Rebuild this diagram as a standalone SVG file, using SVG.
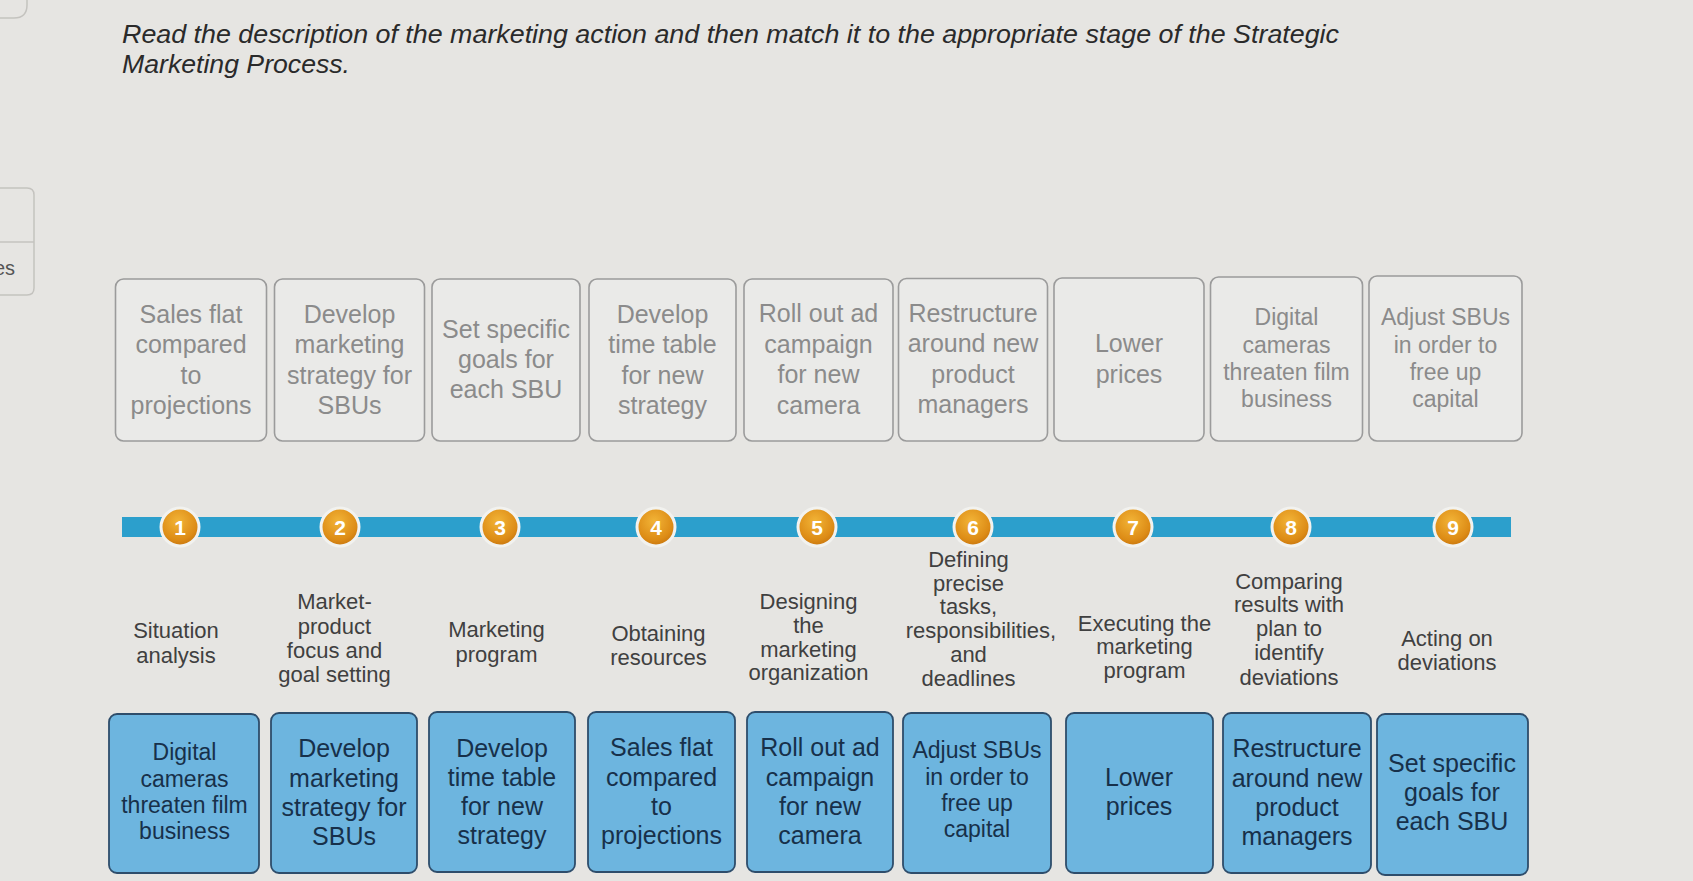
<svg xmlns="http://www.w3.org/2000/svg" width="1693" height="881" viewBox="0 0 1693 881">
<defs>
<radialGradient id="org" cx="0.45" cy="0.35" r="0.7">
<stop offset="0" stop-color="#f2b437"/>
<stop offset="0.7" stop-color="#dd8c16"/>
<stop offset="1" stop-color="#c2700c"/>
</radialGradient>
<style>
.bg{fill:#e6e5e2}
.title{font-family:"Liberation Sans",Arial,sans-serif;font-style:italic;font-size:26px;fill:#2a2a2a}
.tbox{fill:#eaeae8;stroke:#9b9b9b;stroke-width:1.6}
.ttxt{font-family:"Liberation Sans",Arial,sans-serif;font-size:25px;fill:#8b8b8b;text-anchor:middle}
.ttxs{font-family:"Liberation Sans",Arial,sans-serif;font-size:23px;fill:#8b8b8b;text-anchor:middle}
.bar{fill:#2c9fcc}
.dot{fill:url(#org);stroke:#f2f2ef;stroke-width:3}
.num{font-family:"Liberation Sans",Arial,sans-serif;font-size:21px;font-weight:bold;fill:#fff;text-anchor:middle}
.stg{font-family:"Liberation Sans",Arial,sans-serif;font-size:22px;fill:#404040;text-anchor:middle}
.bbox{fill:#6db5df;stroke:#2e4d6b;stroke-width:1.8}
.btxt{font-family:"Liberation Sans",Arial,sans-serif;font-size:25px;fill:#17304a;text-anchor:middle}
.btxs{font-family:"Liberation Sans",Arial,sans-serif;font-size:23px;fill:#17304a;text-anchor:middle}
.side{fill:none;stroke:#c4c3bf;stroke-width:1.5}
.sidet{font-family:"Liberation Sans",Arial,sans-serif;font-size:20px;fill:#555}
</style>
</defs>
<rect class="bg" x="0" y="0" width="1693" height="881"/>

<g id="side-panel">
<path class="side" d="M0 188 H27 Q34 188 34 195 V288 Q34 295 27 295 H0"/>
<line class="side" x1="0" y1="242" x2="34" y2="242"/>
<text class="sidet" x="-6" y="275">es</text>
<path class="side" d="M0 18 H14 Q27 18 27 5 V0"/>
</g>

<g id="title">
<text class="title" x="122" y="43" textLength="1217" lengthAdjust="spacingAndGlyphs">Read the description of the marketing action and then match it to the appropriate stage of the Strategic</text>
<text class="title" x="122" y="73" textLength="228" lengthAdjust="spacingAndGlyphs">Marketing Process.</text>
</g>

<g id="top-choices">
<g id="choice-1"><rect class="tbox" x="115.5" y="279" width="151" height="162" rx="8"/>
<text class="ttxt" x="191" y="322.5">Sales flat</text><text class="ttxt" x="191" y="353">compared</text><text class="ttxt" x="191" y="383.5">to</text><text class="ttxt" x="191" y="414">projections</text></g>
<g id="choice-2"><rect class="tbox" x="274.5" y="279" width="150" height="162" rx="8"/>
<text class="ttxt" x="349.5" y="322.5">Develop</text><text class="ttxt" x="349.5" y="353">marketing</text><text class="ttxt" x="349.5" y="383.5">strategy for</text><text class="ttxt" x="349.5" y="414">SBUs</text></g>
<g id="choice-3"><rect class="tbox" x="432" y="279" width="148" height="162" rx="8"/>
<text class="ttxt" x="506" y="338">Set specific</text><text class="ttxt" x="506" y="368">goals for</text><text class="ttxt" x="506" y="398">each SBU</text></g>
<g id="choice-4"><rect class="tbox" x="589" y="279" width="147" height="162" rx="8"/>
<text class="ttxt" x="662.5" y="322.5">Develop</text><text class="ttxt" x="662.5" y="353">time table</text><text class="ttxt" x="662.5" y="383.5">for new</text><text class="ttxt" x="662.5" y="414">strategy</text></g>
<g id="choice-5"><rect class="tbox" x="744" y="279" width="149" height="162" rx="8"/>
<text class="ttxt" x="818.5" y="322">Roll out ad</text><text class="ttxt" x="818.5" y="352.5">campaign</text><text class="ttxt" x="818.5" y="383">for new</text><text class="ttxt" x="818.5" y="413.5">camera</text></g>
<g id="choice-6"><rect class="tbox" x="898.5" y="278.5" width="149" height="162.5" rx="8"/>
<text class="ttxt" x="973" y="322">Restructure</text><text class="ttxt" x="973" y="352">around new</text><text class="ttxt" x="973" y="382.5">product</text><text class="ttxt" x="973" y="413">managers</text></g>
<g id="choice-7"><rect class="tbox" x="1054" y="278" width="150" height="163" rx="8"/>
<text class="ttxt" x="1129" y="352">Lower</text><text class="ttxt" x="1129" y="383">prices</text></g>
<g id="choice-8"><rect class="tbox" x="1210.5" y="277" width="152" height="164" rx="8"/>
<text class="ttxs" x="1286.5" y="325">Digital</text><text class="ttxs" x="1286.5" y="353">cameras</text><text class="ttxs" x="1286.5" y="380">threaten film</text><text class="ttxs" x="1286.5" y="407">business</text></g>
<g id="choice-9"><rect class="tbox" x="1369" y="276" width="153" height="165" rx="8"/>
<text class="ttxs" x="1445.5" y="325">Adjust SBUs</text><text class="ttxs" x="1445.5" y="353">in order to</text><text class="ttxs" x="1445.5" y="380">free up</text><text class="ttxs" x="1445.5" y="407">capital</text></g>
</g>

<g id="connectors">
<rect class="bar" x="122" y="517" width="1389" height="20"/>
</g>

<g id="stages">
<g id="stage-1"><circle class="dot" cx="180" cy="527" r="19"/><text class="num" x="180" y="534.5">1</text>
<text class="stg" x="176" y="638">Situation</text><text class="stg" x="176" y="663">analysis</text></g>
<g id="stage-2"><circle class="dot" cx="340" cy="527" r="19"/><text class="num" x="340" y="534.5">2</text>
<text class="stg" x="334.5" y="609">Market-</text><text class="stg" x="334.5" y="633.5">product</text><text class="stg" x="334.5" y="657.5">focus and</text><text class="stg" x="334.5" y="682">goal setting</text></g>
<g id="stage-3"><circle class="dot" cx="500" cy="527" r="19"/><text class="num" x="500" y="534.5">3</text>
<text class="stg" x="496.5" y="637">Marketing</text><text class="stg" x="496.5" y="662">program</text></g>
<g id="stage-4"><circle class="dot" cx="656" cy="527" r="19"/><text class="num" x="656" y="534.5">4</text>
<text class="stg" x="658.5" y="641">Obtaining</text><text class="stg" x="658.5" y="665">resources</text></g>
<g id="stage-5"><circle class="dot" cx="817" cy="527" r="19"/><text class="num" x="817" y="534.5">5</text>
<text class="stg" x="808.5" y="609">Designing</text><text class="stg" x="808.5" y="633">the</text><text class="stg" x="808.5" y="656.5">marketing</text><text class="stg" x="808.5" y="680">organization</text></g>
<g id="stage-6"><circle class="dot" cx="973" cy="527" r="19"/><text class="num" x="973" y="534.5">6</text>
<text class="stg" x="968.5" y="566.5">Defining</text><text class="stg" x="968.5" y="590.5">precise</text><text class="stg" x="968.5" y="614">tasks,</text><text class="stg" x="981" y="638">responsibilities,</text><text class="stg" x="968.5" y="662">and</text><text class="stg" x="968.5" y="686">deadlines</text></g>
<g id="stage-7"><circle class="dot" cx="1133" cy="527" r="19"/><text class="num" x="1133" y="534.5">7</text>
<text class="stg" x="1144.5" y="630.5">Executing the</text><text class="stg" x="1144.5" y="654">marketing</text><text class="stg" x="1144.5" y="678">program</text></g>
<g id="stage-8"><circle class="dot" cx="1291" cy="527" r="19"/><text class="num" x="1291" y="534.5">8</text>
<text class="stg" x="1289" y="588.5">Comparing</text><text class="stg" x="1289" y="612">results with</text><text class="stg" x="1289" y="636">plan to</text><text class="stg" x="1289" y="659.5">identify</text><text class="stg" x="1289" y="684.5">deviations</text></g>
<g id="stage-9"><circle class="dot" cx="1453" cy="527" r="19"/><text class="num" x="1453" y="534.5">9</text>
<text class="stg" x="1447" y="645.5">Acting on</text><text class="stg" x="1447" y="669.5">deviations</text></g>
</g>

<g id="answers">
<g id="answer-1"><rect class="bbox" x="109" y="714" width="150" height="159" rx="8"/>
<text class="btxs" x="184.5" y="760">Digital</text><text class="btxs" x="184.5" y="787">cameras</text><text class="btxs" x="184.5" y="813">threaten film</text><text class="btxs" x="184.5" y="839">business</text></g>
<g id="answer-2"><rect class="bbox" x="271" y="713" width="146" height="160" rx="8"/>
<text class="btxt" x="344" y="757">Develop</text><text class="btxt" x="344" y="786.5">marketing</text><text class="btxt" x="344" y="815.5">strategy for</text><text class="btxt" x="344" y="844.5">SBUs</text></g>
<g id="answer-3"><rect class="bbox" x="429" y="712" width="146" height="160" rx="8"/>
<text class="btxt" x="502" y="757">Develop</text><text class="btxt" x="502" y="786">time table</text><text class="btxt" x="502" y="815">for new</text><text class="btxt" x="502" y="844">strategy</text></g>
<g id="answer-4"><rect class="bbox" x="588" y="712" width="147" height="160" rx="8"/>
<text class="btxt" x="661.5" y="756">Sales flat</text><text class="btxt" x="661.5" y="786">compared</text><text class="btxt" x="661.5" y="815">to</text><text class="btxt" x="661.5" y="844">projections</text></g>
<g id="answer-5"><rect class="bbox" x="747" y="712" width="146" height="160" rx="8"/>
<text class="btxt" x="820" y="756">Roll out ad</text><text class="btxt" x="820" y="786">campaign</text><text class="btxt" x="820" y="815">for new</text><text class="btxt" x="820" y="844">camera</text></g>
<g id="answer-6"><rect class="bbox" x="903" y="713" width="148" height="160" rx="8"/>
<text class="btxs" x="977" y="758">Adjust SBUs</text><text class="btxs" x="977" y="785">in order to</text><text class="btxs" x="977" y="811">free up</text><text class="btxs" x="977" y="837">capital</text></g>
<g id="answer-7"><rect class="bbox" x="1066" y="713" width="147" height="160" rx="8"/>
<text class="btxt" x="1139" y="786">Lower</text><text class="btxt" x="1139" y="815">prices</text></g>
<g id="answer-8"><rect class="bbox" x="1223" y="713" width="148" height="160" rx="8"/>
<text class="btxt" x="1297" y="757">Restructure</text><text class="btxt" x="1297" y="786.5">around new</text><text class="btxt" x="1297" y="815.5">product</text><text class="btxt" x="1297" y="845">managers</text></g>
<g id="answer-9"><rect class="bbox" x="1377" y="714" width="151" height="161" rx="8"/>
<text class="btxt" x="1452" y="771.5">Set specific</text><text class="btxt" x="1452" y="800.5">goals for</text><text class="btxt" x="1452" y="830">each SBU</text></g>
</g>
</svg>
